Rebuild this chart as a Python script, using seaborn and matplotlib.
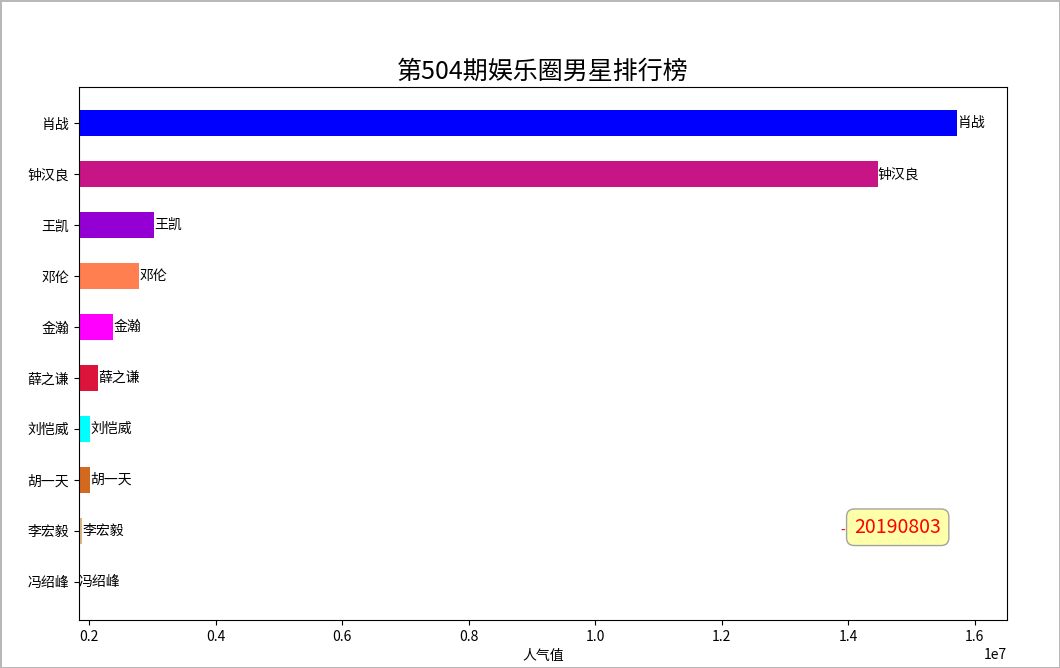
import matplotlib
matplotlib.use("Agg")
import pandas as pd
import seaborn as sns
from matplotlib import pyplot as plt

# data
names = ["肖战", "钟汉良", "王凯", "邓伦", "金瀚", "薛之谦", "刘恺威", "胡一天", "李宏毅", "冯绍峰"]
values = [15720000, 14470000, 3030000, 2790000, 2380000, 2140000, 2020000, 2020000, 1890000, 1840000]
colors = ["#0000ff", "#c71585", "#9400d3", "#ff7f50", "#ff00ff",
          "#dc143c", "#00ffff", "#d2691e", "#deb887", "#8fbc8f"]
title = "第504期娱乐圈男星排行榜"
date_label = "20190803"

df = pd.DataFrame({"name": names, "value": values})

plt.rcParams["font.family"] = ["Noto Sans CJK SC", "DejaVu Sans"]
plt.rcParams["axes.unicode_minus"] = False

fig = plt.figure(figsize=(10.6, 6.68), dpi=100)
ax = fig.add_axes([79 / 1060, 48 / 668, 928 / 1060, 533 / 668])

sns.barplot(
    data=df,
    x="value",
    y="name",
    hue="name",
    palette=dict(zip(names, colors)),
    order=names,
    width=0.5,
    orient="h",
    legend=False,
    saturation=1,
    ax=ax,
)

for name, val in zip(names, values):
    ax.text(val, names.index(name), name, va="center", ha="left", fontsize=10)

ax.set_xlim(min(values), 16510000)
ax.set_ylim(9.75, -0.71)
ax.set_xticks([2e6, 4e6, 6e6, 8e6, 1e7, 1.2e7, 1.4e7, 1.6e7])
ax.set_xlabel("人气值", fontsize=10, labelpad=4)
ax.set_ylabel("")
ax.tick_params(labelsize=10)
ax.set_title(title, fontsize=18, pad=6)

ax.text(0.8235, 0.167, "-", color="red", fontsize=10, transform=ax.transAxes,
        va="center", ha="center")
ax.text(0.8355, 0.174, date_label, color="red", fontsize=14, transform=ax.transAxes,
        va="center", ha="left",
        bbox=dict(boxstyle="round,pad=0.4", facecolor="#ffffa0", edgecolor="#999999", alpha=0.9))

fig.patch.set_edgecolor("#b8b8b8")
fig.patch.set_linewidth(2)

fig.savefig("out.png", dpi=100)
